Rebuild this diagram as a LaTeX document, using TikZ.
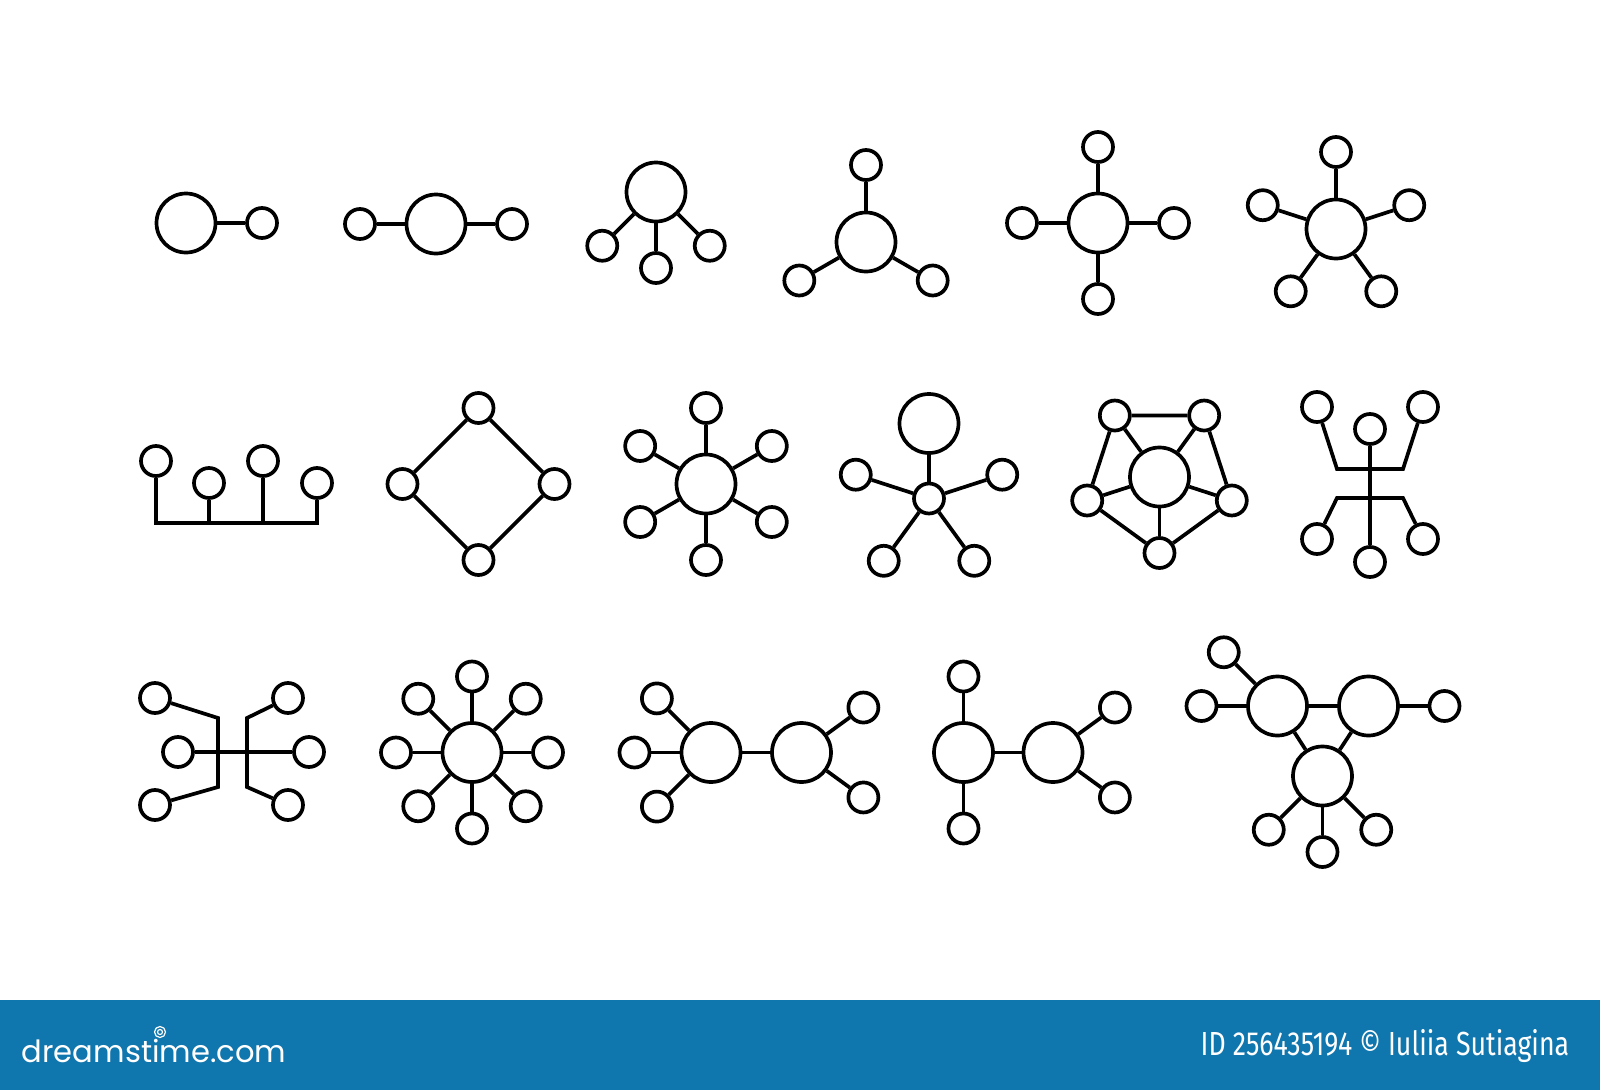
\documentclass[tikz,border=0pt]{standalone}
\usepackage{fontspec}
\usepackage{graphicx}
\usepackage{tikz}
\newfontfamily\logofont{Poppins}
\newfontfamily\creditfont{Fira Sans}
\definecolor{bannerblue}{RGB}{16,118,174}

\begin{document}
\begin{tikzpicture}[x=0.1mm, y=-0.1mm, line width=0.37mm,
  hub/.style={circle, draw, line width=0.37mm, inner sep=0pt, minimum size=5.9mm},
  leaf/.style={circle, draw, line width=0.37mm, inner sep=0pt, minimum size=3mm}]
\useasboundingbox (0,0) rectangle (1600,1090);
%top row:
\node[hub] (a1) at (186,223) {};
\node[leaf] (a2) at (262,223) {};
\draw (a1) -- (a2);
\node[leaf] (b1) at (360,224) {};
\node[hub] (b2) at (436,224) {};
\node[leaf] (b3) at (512,224) {};
\draw (b1) -- (b2) -- (b3);
\node[hub] (c0) at (656,192) {};
\foreach \a [count=\k] in {45,90,135} {
  \node[leaf] (c\k) at ([shift={(\a:76)}]c0) {};
  \draw (c0) -- (c\k);
}
\node[hub] (d0) at (866,242) {};
\foreach \a [count=\k] in {-90,30,150} {
  \node[leaf] (d\k) at ([shift={(\a:77)}]d0) {};
  \draw (d0) -- (d\k);
}
\node[hub] (e0) at (1098,223) {};
\foreach \a [count=\k] in {0,90,180,270} {
  \node[leaf] (e\k) at ([shift={(\a:76)}]e0) {};
  \draw (e0) -- (e\k);
}
\node[hub] (f0) at (1336,229) {};
\foreach \a [count=\k] in {-90,-18,54,126,198} {
  \node[leaf] (f\k) at ([shift={(\a:77)}]f0) {};
  \draw (f0) -- (f\k);
}
%middle row:
\node[leaf] (g1) at (156,461) {};
\node[leaf] (g2) at (209,483) {};
\node[leaf] (g3) at (263,461) {};
\node[leaf] (g4) at (317,483) {};
\coordinate (gl) at (156,523);
\coordinate (gr) at (317,523);
\draw (g1) -- (gl) -- (gr) -- (g4);
\draw (g2) -- (g2 |- gl);
\draw (g3) -- (g3 |- gl);
\coordinate (h0) at (478.5,484);
\foreach \a [count=\k] in {-90,0,90,180} {
  \node[leaf] (h\k) at ([shift={(\a:76)}]h0) {};
}
\draw (h1) -- (h2) -- (h3) -- (h4) -- (h1);
\node[hub] (i0) at (706,484) {};
\foreach \a [count=\k] in {-90,-30,30,90,150,210} {
  \node[leaf] (i\k) at ([shift={(\a:76)}]i0) {};
  \draw (i0) -- (i\k);
}
\node[leaf] (j0) at (929,498.5) {};
\node[hub] (jt) at (929,423.5) {};
\draw (j0) -- (jt);
\foreach \a [count=\k] in {-18,54,126,198} {
  \node[leaf] (j\k) at ([shift={(\a:77)}]j0) {};
  \draw (j0) -- (j\k);
}
\node[hub] (k0) at (1159.5,477) {};
\foreach \a [count=\k] in {90,162,234,306,18} {
  \node[leaf] (k\k) at ([shift={(\a:76)}]k0) {};
  \draw (k0) -- (k\k);
}
\draw (k1) -- (k2) -- (k3) -- (k4) -- (k5) -- (k1);
\node[leaf] (m1) at (1317,407) {};
\node[leaf] (m2) at (1370,429) {};
\node[leaf] (m3) at (1423,407) {};
\node[leaf] (m4) at (1317,539) {};
\node[leaf] (m5) at (1370,562) {};
\node[leaf] (m6) at (1423,539) {};
\coordinate (mu1) at (1337,469);
\coordinate (mu2) at (1403,469);
\coordinate (ml1) at (1337,498);
\coordinate (ml2) at (1403,498);
\draw (m2) -- (m5);
\draw (m1) -- (mu1) -- (mu2) -- (m3);
\draw (m4) -- (ml1) -- (ml2) -- (m6);
%bottom row:
\node[leaf] (p1) at (155,698) {};
\node[leaf] (p2) at (178,752) {};
\node[leaf] (p3) at (155,805) {};
\node[leaf] (p4) at (288,698) {};
\node[leaf] (p5) at (309,752) {};
\node[leaf] (p6) at (288,805) {};
\coordinate (pa1) at (218,718);
\coordinate (pa2) at (218,787);
\coordinate (pb1) at (247,718);
\coordinate (pb2) at (247,787);
\draw (p1) -- (pa1) -- (pa2) -- (p3);
\draw (p4) -- (pb1) -- (pb2) -- (p6);
\draw (p2) -- (p5);
\node[hub] (n0) at (472,752.5) {};
\foreach \a [count=\k] in {0,45,...,315} {
  \node[leaf] (n\k) at ([shift={(\a:76)}]n0) {};
  \draw (n0) -- (n\k);
}
\node[hub] (o1) at (711,752.5) {};
\node[hub] (o2) at (801.5,752.5) {};
\draw (o1) -- (o2);
\foreach \a [count=\k] in {135,180,225} {
  \node[leaf] (oa\k) at ([shift={(\a:76.5)}]o1) {};
  \draw (o1) -- (oa\k);
}
\foreach \a [count=\k] in {-36,36} {
  \node[leaf] (ob\k) at ([shift={(\a:76.5)}]o2) {};
  \draw (o2) -- (ob\k);
}
\node[hub] (q1) at (963.5,752.5) {};
\node[hub] (q2) at (1053,752.5) {};
\draw (q1) -- (q2);
\foreach \a [count=\k] in {-90,90} {
  \node[leaf] (qa\k) at ([shift={(\a:76)}]q1) {};
  \draw (q1) -- (qa\k);
}
\foreach \a [count=\k] in {-36,36} {
  \node[leaf] (qb\k) at ([shift={(\a:76.5)}]q2) {};
  \draw (q2) -- (qb\k);
}
\node[hub] (r1) at (1277.5,706) {};
\node[hub] (r2) at (1368.5,706) {};
\node[hub] (r3) at (1322.5,776) {};
\draw (r1) -- (r2) -- (r3) -- (r1);
\foreach \a [count=\k] in {180,225} {
  \node[leaf] (ra\k) at ([shift={(\a:76)}]r1) {};
  \draw (r1) -- (ra\k);
}
\node[leaf] (rb1) at ([shift={(0:76)}]r2) {};
\draw (r2) -- (rb1);
\foreach \a [count=\k] in {45,90,135} {
  \node[leaf] (rc\k) at ([shift={(\a:76)}]r3) {};
  \draw (r3) -- (rc\k);
}
%banner:
\fill[bannerblue] (0,1000) rectangle (1600,1090);
\node[anchor=base west, text=white, inner sep=0pt, font=\logofont\fontsize{8.7}{9}\selectfont] (logo) at (20,1062) {dreamstime.com};
\draw[white, line width=0.12mm] (160,1032) circle (0.55mm) (160,1032) circle (0.25mm);
\node[anchor=base east, text=white, inner sep=0pt, font=\creditfont\fontsize{9.5}{10}\selectfont] (credit) at (1571,1055) {\scalebox{0.8}[1]{ID 256435194 © Iuliia Sutiagina}};
\end{tikzpicture}
\end{document}
